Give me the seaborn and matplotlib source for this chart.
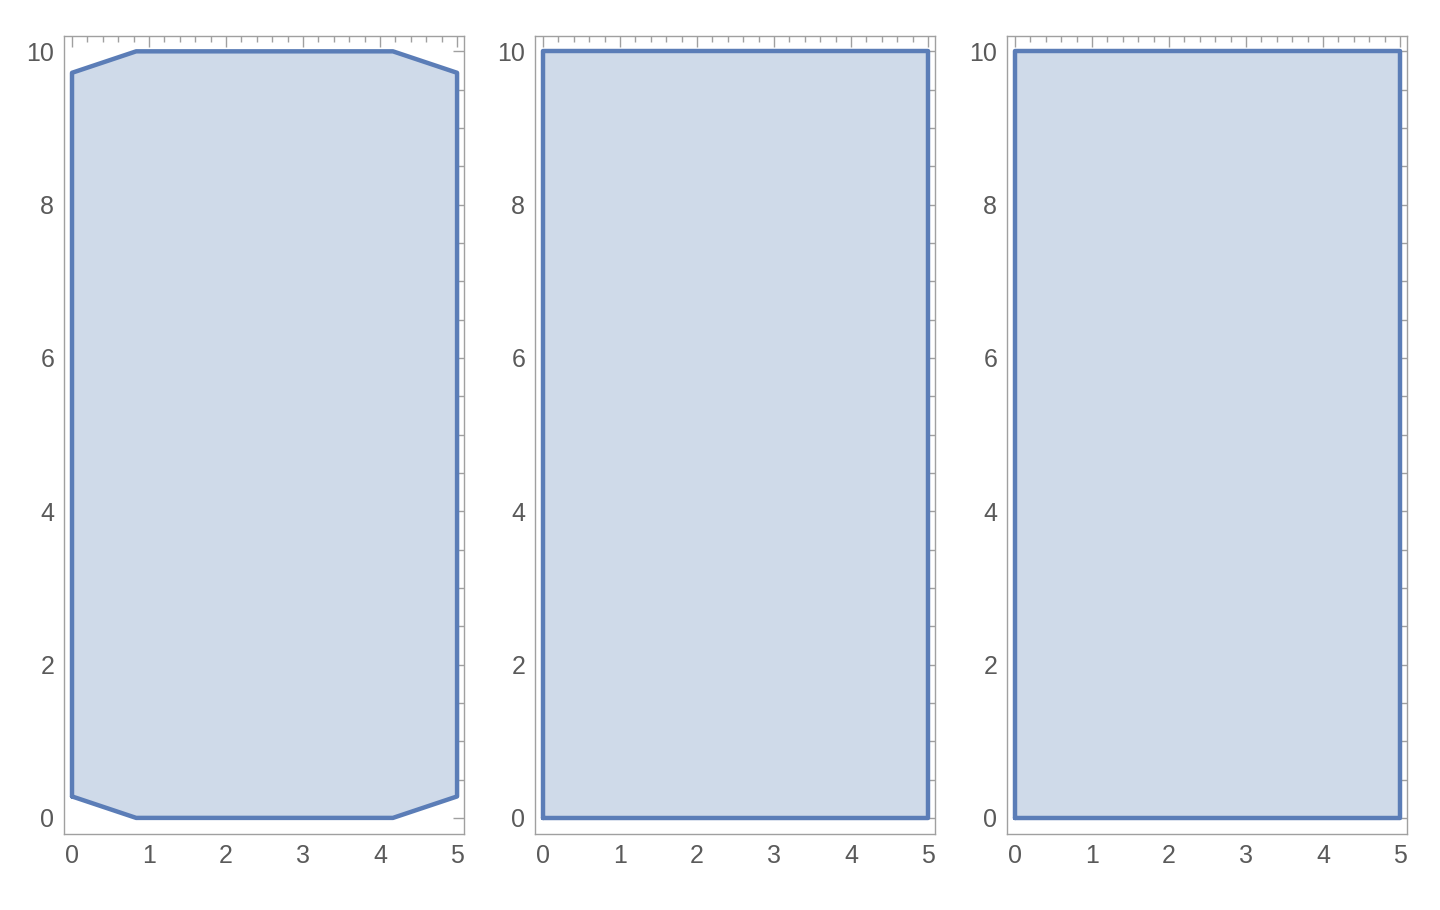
import numpy as np
import pandas as pd
import matplotlib
matplotlib.use("Agg")
from matplotlib import pyplot as plt
from matplotlib.ticker import MultipleLocator
import seaborn as sns

# polygon vertices for each panel (closed outline)
poly1_x = [0, 0.833, 4.167, 5, 5, 4.167, 0.833, 0, 0]
poly1_y = [0.28, 0, 0, 0.28, 9.72, 10, 10, 9.72, 0.28]
poly2_x = [0, 5, 5, 0, 0]
poly2_y = [0, 0, 10, 10, 0]
poly3_x = [0, 5, 5, 0, 0]
poly3_y = [0, 0, 10, 10, 0]

x_ticks = [0, 1, 2, 3, 4, 5]
y_ticks = [0, 2, 4, 6, 8, 10]

sns.set_style('white')
plt.rcParams['font.family'] = ['Liberation Sans', 'DejaVu Sans']

edge_col = '#5b7db7'
face_col = '#cfdae9'
frame_col = '#a0a0a0'
label_col = '#5a5a5a'

fig = plt.figure(figsize=(14.4, 9.1), dpi=100)
lefts = [64, 535, 1007]
polys = [(poly1_x, poly1_y), (poly2_x, poly2_y), (poly3_x, poly3_y)]

for left, (px, py) in zip(lefts, polys):
    ax = fig.add_axes([left / 1440, 1 - 834 / 910, 400 / 1440, 798 / 910])
    df = pd.DataFrame({'x': px, 'y': py})
    ax.fill(df['x'], df['y'], color=face_col, zorder=1)
    sns.lineplot(data=df, x='x', y='y', sort=False, estimator=None,
                 color=edge_col, linewidth=3.2, ax=ax, zorder=2)
    ax.set_xlim(-0.104, 5.09)
    ax.set_ylim(-0.21, 10.2)
    ax.set_xticks(x_ticks)
    ax.set_yticks(y_ticks)
    ax.xaxis.set_minor_locator(MultipleLocator(0.2))
    ax.yaxis.set_minor_locator(MultipleLocator(0.5))
    ax.set_xlabel('')
    ax.set_ylabel('')
    ax.tick_params(which='both', direction='in', top=True, right=True,
                   color=frame_col, width=1, labelsize=18, labelcolor=label_col)
    ax.tick_params(which='major', length=8, pad=7)
    ax.tick_params(which='minor', length=4.5)
    for s in ax.spines.values():
        s.set_color(frame_col)
        s.set_linewidth(1)

fig.savefig('out.png', dpi=100)
